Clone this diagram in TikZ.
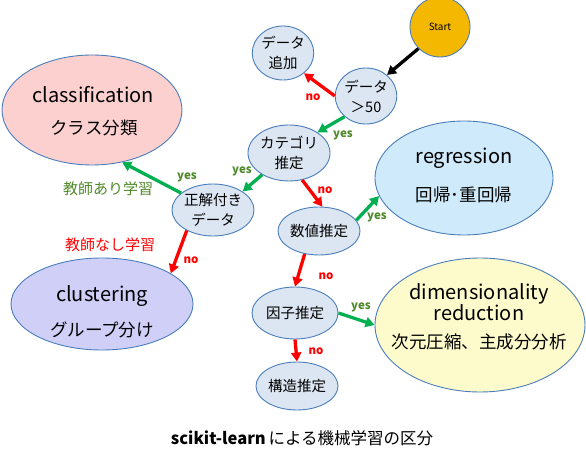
\documentclass[tikz,border=0pt]{standalone}
\usepackage{fontspec}
\setmainfont{Noto Sans CJK JP}
\usetikzlibrary{shapes.geometric,arrows.meta}
\definecolor{nodefill}{HTML}{DCE6F2}
\definecolor{nodeedge}{HTML}{4A7EBB}
\definecolor{startfill}{HTML}{F5B800}
\definecolor{clsfill}{HTML}{FDD0D0}
\definecolor{regfill}{HTML}{CFEAFB}
\definecolor{clufill}{HTML}{CFCFF8}
\definecolor{dimfill}{HTML}{FDFBCB}
\definecolor{agreen}{HTML}{00B050}
\definecolor{ared}{HTML}{FF0000}
\definecolor{yesgreen}{HTML}{4F8A2A}
\begin{document}
\begin{tikzpicture}[x=1pt,y=-1pt,
  flow/.style={ellipse,draw=nodeedge,line width=0.9pt,fill=nodefill,inner sep=0pt,align=center,
    font=\fontsize{14.5}{20}\selectfont},
  big/.style={ellipse,draw=nodeedge,line width=0.9pt,inner sep=0pt},
  bigtxt/.style={inner sep=0pt,font=\fontsize{20}{22}\selectfont},
  jptxt/.style={inner sep=0pt,font=\fontsize{17.5}{20}\selectfont},
  arr/.style={line width=3.3pt,-{Triangle[length=9pt,width=10pt]}},
  garr/.style={arr,draw=agreen},
  rarr/.style={arr,draw=ared},
  yeslbl/.style={inner sep=0pt,text=yesgreen,font=\fontsize{11.5}{13}\selectfont\bfseries},
  nolbl/.style={inner sep=0pt,text=ared,font=\fontsize{11.5}{13}\selectfont\bfseries},
]
\useasboundingbox (0,0) rectangle (586,462);
\fill[white] (0,0) rectangle (586,462);

% nodes
\node[circle,draw=nodeedge,line width=0.9pt,fill=startfill,minimum size=60pt,inner sep=0pt,
  font=\fontsize{10}{12}\selectfont] (start) at (440,27) {Start};
\node[flow,minimum width=58pt,minimum height=54pt] (add) at (283,53) {データ\\追加};
\node[flow,minimum width=56pt,minimum height=56pt] (d50) at (366,96) {データ\\＞50};
\node[flow,minimum width=74pt,minimum height=56pt] (cat) at (289,153) {カテゴリ\\推定};
\node[flow,minimum width=80pt,minimum height=52pt] (sei) at (213,210) {正解付き\\データ};
\node[flow,minimum width=72pt,minimum height=48pt] (num) at (319,231) {数値推定};
\node[flow,minimum width=86pt,minimum height=52pt] (inshi) at (295,313) {因子推定};
\node[flow,minimum width=80pt,minimum height=48pt] (kozo) at (297,386) {構造推定};

\node[big,fill=clsfill,minimum width=180pt,minimum height=110pt] (cls) at (92,110) {};
\node[bigtxt] (clsA) at (93,95) {classification};
\node[jptxt] (clsB) at (94,128) {クラス分類};

\node[big,fill=regfill,minimum width=178pt,minimum height=114pt] (reg) at (464,178) {};
\node[bigtxt] (regA) at (464,158) {regression};
\node[jptxt] (regB) at (464,195) {回帰･重回帰};

\node[big,fill=clufill,minimum width=182pt,minimum height=92pt] (clu) at (102,304) {};
\node[bigtxt] (cluA) at (102,296) {clustering};
\node[jptxt] (cluB) at (102,330) {グループ分け};

\node[big,fill=dimfill,minimum width=210pt,minimum height=134pt] (dim) at (480,325) {};
\node[bigtxt] (dimA) at (479,294) {dimensionality};
\node[bigtxt] (dimB) at (479,313) {reduction};
\node[jptxt] (dimC) at (479,342) {次元圧縮、主成分分析};

% connectors
\draw[arr,draw=black] (start.225) -- (d50.45);
\draw[rarr] (d50.180) -- (add.-44);
\draw[garr] (d50.224) -- (cat.36);
\draw[garr] (cat.219) -- (sei.32);
\draw[garr] (sei.152) -- (cls.-60);
\draw[rarr] (cat.-64) -- (num.82);
\draw[garr] (num.16) -- (reg.192);
\draw[rarr] (sei.218) -- (clu.24);
\draw[rarr] (num.238) -- (inshi.90);
\draw[garr] (inshi.0) -- (dim.180);
\draw[rarr] (inshi.270) -- (kozo.90);

% labels
\node[nolbl] (l1) at (313,97) {no};
\node[yeslbl] (l2) at (343,135) {yes};
\node[yeslbl] (l3) at (242,171) {yes};
\node[yeslbl] (l4) at (187,177) {yes};
\node[nolbl] (l5) at (325,190) {no};
\node[yeslbl] (l6) at (377,217) {yes};
\node[nolbl] (l7) at (191,260) {no};
\node[nolbl] (l8) at (326,276) {no};
\node[yeslbl] (l9) at (361,307) {yes};
\node[nolbl] (l10) at (316,351) {no};
\node[inner sep=0pt,text=yesgreen,font=\fontsize{15}{18}\selectfont] (sup) at (108,189) {教師あり学習};
\node[inner sep=0pt,text=ared,font=\fontsize{15}{18}\selectfont] (unsup) at (110,245) {教師なし学習};

\node[inner sep=0pt,font=\fontsize{16.5}{19}\selectfont] (cap) at (302,438) {\textbf{scikit-learn}\,による機械学習の区分};
\end{tikzpicture}
\end{document}
